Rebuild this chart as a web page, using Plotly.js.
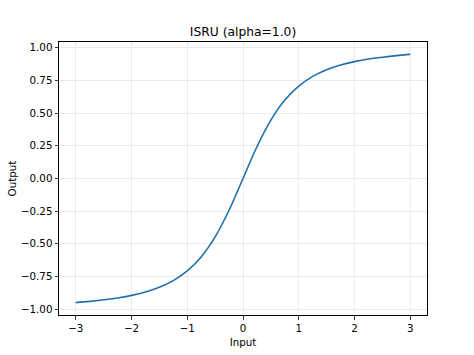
<!DOCTYPE html>
<html>
<head>
<meta charset="utf-8">
<script src="https://cdn.plot.ly/plotly-3.0.1.min.js"></script>
<style>html,body{margin:0;padding:0;background:#fff;}#chart{width:474px;height:355px;}</style>
</head>
<body>
<div id="chart"></div>
<script>
// Values
var inputX = [-3, -2.75, -2.5, -2.25, -2, -1.75, -1.5, -1.25, -1, -0.75, -0.5, -0.25, 0,
              0.25, 0.5, 0.75, 1, 1.25, 1.5, 1.75, 2, 2.25, 2.5, 2.75, 3];
var outputY = [-0.949, -0.940, -0.928, -0.914, -0.894, -0.868, -0.832, -0.781, -0.707, -0.600, -0.447, -0.243, 0,
               0.243, 0.447, 0.600, 0.707, 0.781, 0.832, 0.868, 0.894, 0.914, 0.928, 0.940, 0.949];
var xTicks = [-3, -2, -1, 0, 1, 2, 3];
var yTicks = [-1.0, -0.75, -0.5, -0.25, 0, 0.25, 0.5, 0.75, 1.0];
var titleText = 'ISRU (alpha=1.0)';

var font = 'DejaVu Sans, sans-serif';
var trace = {
  x: inputX, y: outputY, type: 'scatter', mode: 'lines',
  line: {color: '#1f6fab', width: 1.6, shape: 'spline', smoothing: 1.0},
  hoverinfo: 'skip'
};
var axisCommon = {
  showline: true, linecolor: '#000', linewidth: 1, mirror: true,
  ticks: 'outside', ticklen: 3.5, tickwidth: 0.8, tickcolor: '#000',
  showgrid: true, gridcolor: '#e6e6e6', gridwidth: 0.8, zeroline: false,
  tickfont: {family: font, size: 10.3, color: '#000'},
  automargin: false
};
var layout = {
  width: 474, height: 355,
  margin: {l: 59, r: 47, t: 42, b: 40},
  paper_bgcolor: '#fff', plot_bgcolor: '#fff',
  showlegend: false,
  font: {family: font, color: '#000'},
  title: {text: titleText, font: {family: font, size: 12.3, color: '#000'},
          x: 0.5, xref: 'paper', xanchor: 'center', y: 1 - 32/355, yref: 'container', yanchor: 'middle'},
  xaxis: Object.assign({}, axisCommon, {
    range: [-3.3, 3.3], tickvals: xTicks, ticktext: xTicks.map(function(v){return v < 0 ? '\u2212' + Math.abs(v) : String(v);}),
    title: {text: 'Input', font: {family: font, size: 10.3, color: '#000'}, standoff: 5}
  }),
  yaxis: Object.assign({}, axisCommon, {
    range: [-1.044, 1.044], tickvals: yTicks, ticktext: yTicks.map(function(v){return v < 0 ? '\u2212' + Math.abs(v).toFixed(2) : v.toFixed(2);}),
    title: {text: 'Output', font: {family: font, size: 10.3, color: '#000'}, standoff: 2}
  })
};
Plotly.newPlot('chart', [trace], layout, {staticPlot: true, displayModeBar: false});
</script>
</body>
</html>
